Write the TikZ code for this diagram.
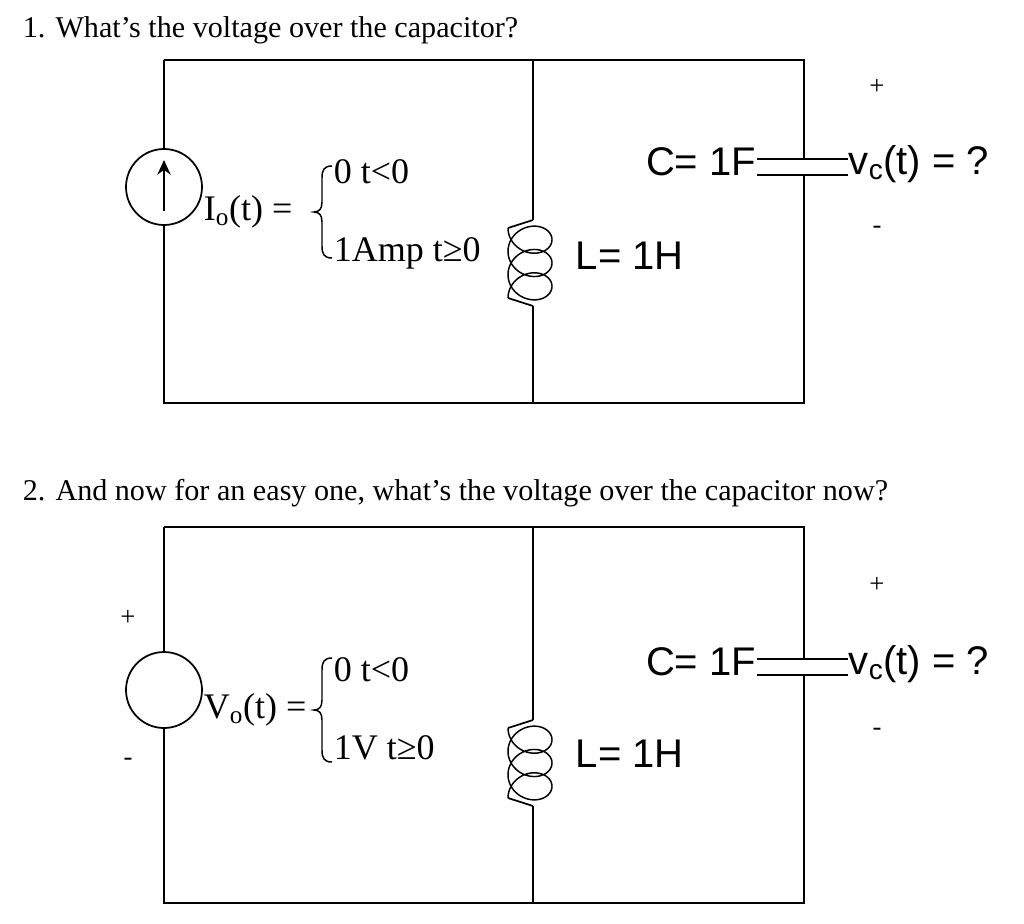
\documentclass[tikz,border=0pt]{standalone}
\usepackage{fontspec}
\setmainfont{Liberation Serif}
\newfontfamily\arialf{Liberation Sans}
\usetikzlibrary{arrows.meta}
\begin{document}
\begin{tikzpicture}[x=0.75pt,y=-0.75pt,line width=1.3pt,
  tnode/.style={inner sep=0pt,font=\fontsize{22.6}{26}\selectfont},
  cnode/.style={inner sep=0pt,font=\fontsize{27}{30}\selectfont},
  anode/.style={inner sep=0pt,font=\arialf\fontsize{30}{34}\selectfont},
  pm/.style={inner sep=0pt,font=\fontsize{20}{24}\selectfont},
  bracestyle/.style={line width=1.1pt}]
\useasboundingbox (0,0) rectangle (1024,924);
\node[tnode,anchor=west] (h1) at (22,30) {1. What’s the voltage over the capacitor?};
\node[tnode,anchor=west] (h2) at (22,493) {2. And now for an easy one, what’s the voltage over the capacitor now?};
\foreach \tp/\bt/\cy/\ly/\sy in {60/403/167/220/187, 527/903/667/720/690}{
  \draw (164,\tp) -- (804,\tp) -- (804,\cy-8);
  \draw (804,\cy+8) -- (804,\bt) -- (164,\bt) -- (164,\sy+38);
  \draw (164,\tp) -- (164,\sy-38);
  \draw (164,\sy) circle (38);
  \draw (757,\cy-8) -- (848,\cy-8);
  \draw (757,\cy+8) -- (848,\cy+8);
  \draw (533,\tp) -- (533,\ly);
  \draw[line width=1.1pt,domain=0:1080,samples=240,smooth] plot ({530-22*cos(\x)},{\ly+8+\x/1080*70+19*sin(\x)});
  \draw (508,\ly+8) -- (533,\ly);
  \draw (508,\ly+78) -- (533,\ly+86);
  \draw (533,\ly+86) -- (533,\bt);
}
\foreach \by/\bh in {212/46, 710/52}{
  \draw[bracestyle] (332,\by-\bh) .. controls (324,\by-\bh) and (322,\by-\bh+4) .. (322,\by-\bh+12)
     -- (322,\by-10) .. controls (322,\by-3) and (319,\by) .. (314,\by)
     .. controls (319,\by) and (322,\by+3) .. (322,\by+10)
     -- (322,\by+\bh-12) .. controls (322,\by+\bh-4) and (324,\by+\bh) .. (332,\by+\bh);
}
\draw[-{Stealth[length=11pt,width=10pt]}] (164,211) -- (164,160);
% circuit 1 labels
\node[cnode,anchor=west] (i1) at (203,212) {I\textsubscript{o}(t) =};
\node[cnode,anchor=west] (a1) at (333,172) {0 t<0};
\node[cnode,anchor=west] (a2) at (333,253) {1Amp t≥0};
\node[anode,anchor=east] (c1) at (757,162) {C= 1F};
\node[anode,anchor=west] (v1) at (848,164) {v\textsubscript{c}(t) = ?};
\node[anode,anchor=west] (l1) at (575,256) {L= 1H};
\node[pm] (p1) at (877,87) {+};
\node[pm] (m1) at (877,230) {-};
% circuit 2 labels
\node[cnode,anchor=west] (i2) at (203,710) {V\textsubscript{o}(t) =};
\node[cnode,anchor=west] (a3) at (333,670) {0 t<0};
\node[cnode,anchor=west] (a4) at (333,748) {1V t≥0};
\node[anode,anchor=east] (c2) at (757,662) {C= 1F};
\node[anode,anchor=west] (v2) at (848,664) {v\textsubscript{c}(t) = ?};
\node[anode,anchor=west] (l2) at (575,754) {L= 1H};
\node[pm] (p2) at (877,585) {+};
\node[pm] (m2) at (877,732) {-};
\node[pm] (p3) at (128,618) {+};
\node[pm] (m3) at (128,762) {-};
\end{tikzpicture}
\end{document}
